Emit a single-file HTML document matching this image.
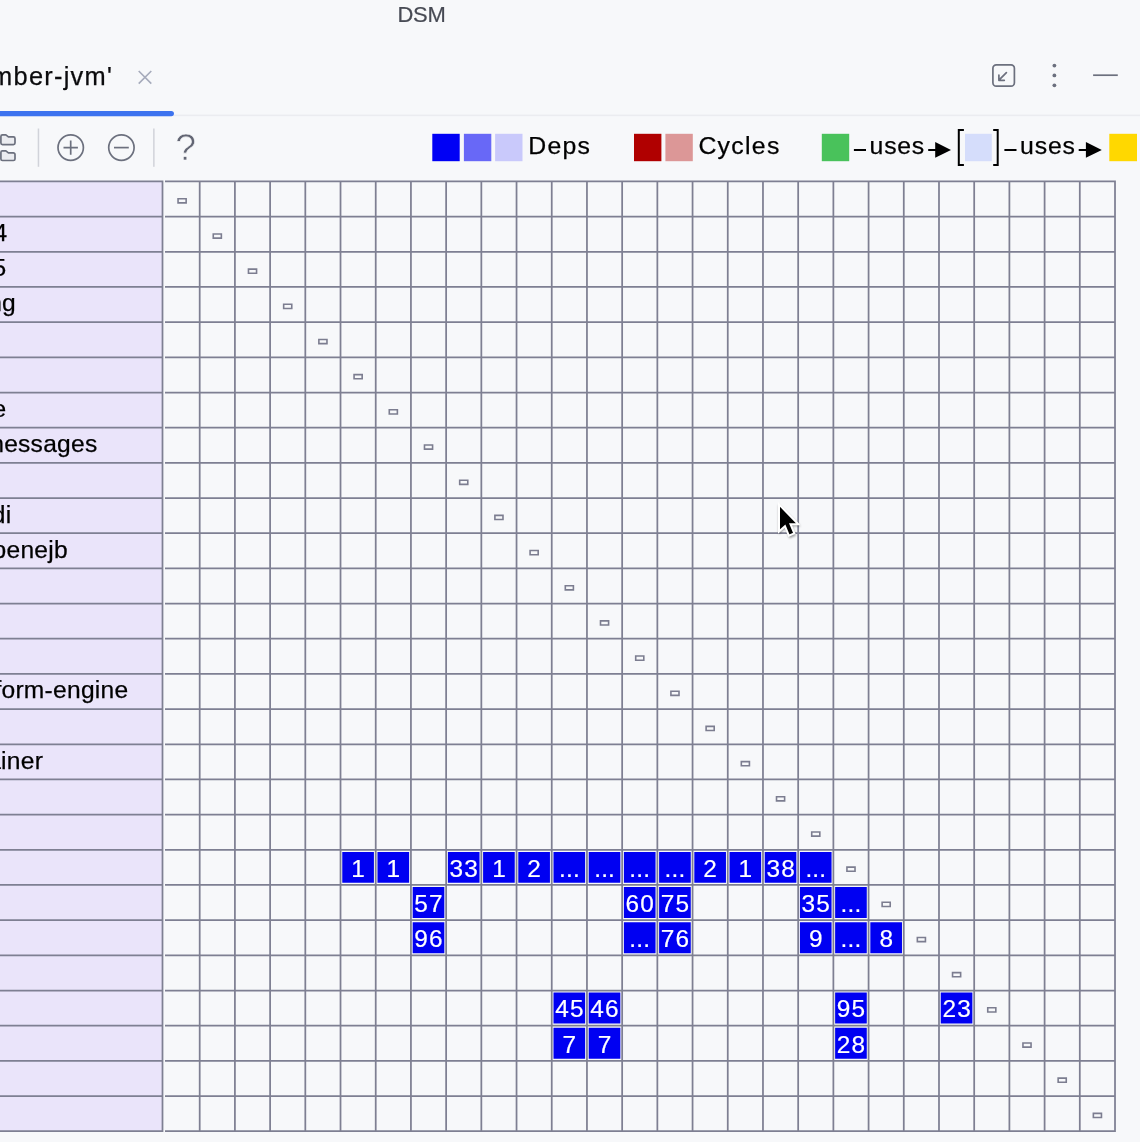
<!DOCTYPE html>
<html lang="en"><head><meta charset="utf-8"><title>DSM</title>
<style>
html,body{margin:0;padding:0}
body{width:1140px;height:1142px;overflow:hidden;background:#f7f8fa;position:relative;font-family:"Liberation Sans",sans-serif;color:#000}
.abs{position:absolute;white-space:nowrap}
.title{left:397.4px;top:2.6px;font-size:22px;line-height:24px;letter-spacing:-.25px;color:#474a54;-webkit-text-stroke:.2px #474a54}
.tab{right:1027px;top:62px;font-size:25.4px;line-height:28px;letter-spacing:1.25px;color:#0b0b0d;-webkit-text-stroke:.25px #0b0b0d}
.lbl{font-size:24.6px;line-height:28px;letter-spacing:.25px;color:#000;-webkit-text-stroke:.25px #000}
.num{font-size:24.4px;line-height:28px;color:#fff;-webkit-text-stroke:.2px #fff;text-align:center;letter-spacing:1.2px;text-indent:1.2px}
.dots{letter-spacing:.2px;text-indent:.2px}
.leg{font-size:24.8px;line-height:28px;color:#000;-webkit-text-stroke:.25px #000}
svg{position:absolute;left:0;top:0}
.q{left:175.3px;top:126.6px;font-size:37.5px;line-height:40px;color:#626573;-webkit-text-stroke:.6px #f7f8fa}
</style></head><body>
<div class="abs title">DSM</div>
<div class="abs tab">Module 'arquillian-container-chameleon-ember-jvm'</div>
<svg width="1140" height="1142" viewBox="0 0 1140 1142">
<rect x="0" y="114.6" width="1140" height="1.5" fill="#ebecf0"/>
<path d="M0 110.9H171.3a2.65 2.65 0 0 1 0 5.3H0z" fill="#3d73ef"/>
<path d="M138.7 71l12.6 12.6M151.3 71l-12.6 12.6" stroke="#a6abbb" stroke-width="1.6" fill="none"/>
<g stroke="#6c707e" stroke-width="1.7" fill="none" stroke-linecap="round" stroke-linejoin="round"><rect x="992.9" y="64.9" width="21.5" height="21.3" rx="3.4"/><path d="M1006.4 72.7L998.9 80.2M998.9 75V80.3H1004.3"/><path d="M1093.1 75.2H1117.8" stroke-linecap="butt"/></g>
<g fill="#6c707e"><circle cx="1054.4" cy="65.6" r="1.9"/><circle cx="1054.4" cy="75.4" r="1.9"/><circle cx="1054.4" cy="85.3" r="1.9"/></g>
<path d="M.9 143 V136.5 a1.6 1.6 0 0 1 1.6 -1.6 H5.9 L8.4 136.9 H13.4 a1.6 1.6 0 0 1 1.6 1.6 V143 a1.6 1.6 0 0 1 -1.6 1.6 H2.5 a1.6 1.6 0 0 1 -1.6 -1.6zM.9 158.9 V152.4 a1.6 1.6 0 0 1 1.6 -1.6 H5.9 L8.4 152.8 H13.4 a1.6 1.6 0 0 1 1.6 1.6 V158.9 a1.6 1.6 0 0 1 -1.6 1.6 H2.5 a1.6 1.6 0 0 1 -1.6 -1.6z" stroke="#6c707e" stroke-width="1.7" fill="#ebecf0" stroke-linejoin="round"/>
<rect x="37.7" y="128.5" width="1.5" height="38.3" fill="#d1d3da"/><rect x="153.1" y="128.5" width="1.5" height="38.3" fill="#d1d3da"/>
<g stroke="#6c707e" stroke-width="1.7" fill="none"><circle cx="70.7" cy="147.6" r="12.7"/><path d="M63.5 147.6H77.9M70.7 140.4V154.8"/><circle cx="121.4" cy="147.6" r="12.7"/><path d="M114 147.6H128.8"/></g>
<rect x="432.3" y="133.8" width="27.4" height="27.4" fill="#0000f5"/><rect x="463.9" y="133.8" width="27.4" height="27.4" fill="#6868f7"/><rect x="495.1" y="133.8" width="27.4" height="27.4" fill="#c9c9fb"/><rect x="634" y="133.8" width="27.4" height="27.4" fill="#b00000"/><rect x="665.4" y="133.8" width="27.4" height="27.4" fill="#dc9797"/><rect x="821.8" y="133.8" width="27.4" height="27.4" fill="#49c25b"/><rect x="965" y="133.8" width="26.8" height="27.4" fill="#d5ddfb"/><rect x="1109.3" y="133.8" width="27.7" height="27.4" fill="#ffd800"/>
<g stroke="#000" stroke-width="2" fill="none"><path d="M853.9 150.1H866M928.2 150H938M1004.4 150.1H1016.5M1078.7 150H1088.5"/><path d="M963.9 129.9H958.8V165.1H963.9M993.2 129.9H997.7V165.1H993.2"/></g><path d="M935.2 142L951 149.9L935.2 157.7zM1085.9 142L1101.8 149.9L1085.9 157.7z" fill="#000"/>
<rect x="0" y="181.45" width="162.5" height="949.75" fill="#eae4fa"/>
<path d="M0 181.45H161.7M165 181.45H1115.88M0 216.63H161.7M165 216.63H1115.88M0 251.8H161.7M165 251.8H1115.88M0 286.98H161.7M165 286.98H1115.88M0 322.15H161.7M165 322.15H1115.88M0 357.33H161.7M165 357.33H1115.88M0 392.51H161.7M165 392.51H1115.88M0 427.68H161.7M165 427.68H1115.88M0 462.86H161.7M165 462.86H1115.88M0 498.03H161.7M165 498.03H1115.88M0 533.21H161.7M165 533.21H1115.88M0 568.39H161.7M165 568.39H1115.88M0 603.56H161.7M165 603.56H1115.88M0 638.74H161.7M165 638.74H1115.88M0 673.91H161.7M165 673.91H1115.88M0 709.09H161.7M165 709.09H1115.88M0 744.27H161.7M165 744.27H1115.88M0 779.44H161.7M165 779.44H1115.88M0 814.62H161.7M165 814.62H1115.88M0 849.79H161.7M165 849.79H1115.88M0 884.97H161.7M165 884.97H1115.88M0 920.15H161.7M165 920.15H1115.88M0 955.32H161.7M165 955.32H1115.88M0 990.5H161.7M165 990.5H1115.88M0 1025.67H161.7M165 1025.67H1115.88M0 1060.85H161.7M165 1060.85H1115.88M0 1096.03H161.7M165 1096.03H1115.88M0 1131.2H161.7M165 1131.2H1115.88M199.7 180.57V1132.08M234.91 180.57V1132.08M270.11 180.57V1132.08M305.32 180.57V1132.08M340.52 180.57V1132.08M375.72 180.57V1132.08M410.93 180.57V1132.08M446.13 180.57V1132.08M481.34 180.57V1132.08M516.54 180.57V1132.08M551.74 180.57V1132.08M586.95 180.57V1132.08M622.15 180.57V1132.08M657.36 180.57V1132.08M692.56 180.57V1132.08M727.76 180.57V1132.08M762.97 180.57V1132.08M798.17 180.57V1132.08M833.38 180.57V1132.08M868.58 180.57V1132.08M903.78 180.57V1132.08M938.99 180.57V1132.08M974.19 180.57V1132.08M1009.4 180.57V1132.08M1044.6 180.57V1132.08M1079.8 180.57V1132.08M1115.01 180.57V1132.08M162.5 180.57V1132.08" stroke="#7e7f92" stroke-width="1.75" fill="none"/>
<path d="M178.05 198.77h8.1v4.15h-8.1zM213.26 233.94h8.1v4.15h-8.1zM248.46 269.12h8.1v4.15h-8.1zM283.66 304.3h8.1v4.15h-8.1zM318.87 339.47h8.1v4.15h-8.1zM354.07 374.65h8.1v4.15h-8.1zM389.28 409.82h8.1v4.15h-8.1zM424.48 445h8.1v4.15h-8.1zM459.68 480.18h8.1v4.15h-8.1zM494.89 515.35h8.1v4.15h-8.1zM530.09 550.53h8.1v4.15h-8.1zM565.3 585.7h8.1v4.15h-8.1zM600.5 620.88h8.1v4.15h-8.1zM635.7 656.06h8.1v4.15h-8.1zM670.91 691.23h8.1v4.15h-8.1zM706.11 726.41h8.1v4.15h-8.1zM741.32 761.58h8.1v4.15h-8.1zM776.52 796.76h8.1v4.15h-8.1zM811.72 831.94h8.1v4.15h-8.1zM846.93 867.11h8.1v4.15h-8.1zM882.13 902.29h8.1v4.15h-8.1zM917.34 937.46h8.1v4.15h-8.1zM952.54 972.64h8.1v4.15h-8.1zM987.74 1007.82h8.1v4.15h-8.1zM1022.95 1042.99h8.1v4.15h-8.1zM1058.15 1078.17h8.1v4.15h-8.1zM1093.36 1113.34h8.1v4.15h-8.1z" stroke="#7c7d90" stroke-width="1.6" fill="none"/>
<path d="M342.27 851.89h31.65v30.9h-31.65zM377.47 851.89h31.65v30.9h-31.65zM447.88 851.89h31.65v30.9h-31.65zM483.09 851.89h31.65v30.9h-31.65zM518.29 851.89h31.65v30.9h-31.65zM553.49 851.89h31.65v30.9h-31.65zM588.7 851.89h31.65v30.9h-31.65zM623.9 851.89h31.65v30.9h-31.65zM659.11 851.89h31.65v30.9h-31.65zM694.31 851.89h31.65v30.9h-31.65zM729.51 851.89h31.65v30.9h-31.65zM764.72 851.89h31.65v30.9h-31.65zM799.92 851.89h31.65v30.9h-31.65zM412.68 887.07h31.65v30.9h-31.65zM623.9 887.07h31.65v30.9h-31.65zM659.11 887.07h31.65v30.9h-31.65zM799.92 887.07h31.65v30.9h-31.65zM835.13 887.07h31.65v30.9h-31.65zM412.68 922.25h31.65v30.9h-31.65zM623.9 922.25h31.65v30.9h-31.65zM659.11 922.25h31.65v30.9h-31.65zM799.92 922.25h31.65v30.9h-31.65zM835.13 922.25h31.65v30.9h-31.65zM870.33 922.25h31.65v30.9h-31.65zM553.49 992.6h31.65v30.9h-31.65zM588.7 992.6h31.65v30.9h-31.65zM835.13 992.6h31.65v30.9h-31.65zM940.74 992.6h31.65v30.9h-31.65zM553.49 1027.77h31.65v30.9h-31.65zM588.7 1027.77h31.65v30.9h-31.65zM835.13 1027.77h31.65v30.9h-31.65z" fill="#0000f2"/>
<defs><filter id="sh" x="-50%" y="-50%" width="200%" height="200%"><feGaussianBlur stdDeviation="1.1"/></filter></defs><path d="M778.2 503V533L785 527L789 536.6L795.6 533.8L791.6 524.6H800.2z" fill="#000" fill-opacity=".38" filter="url(#sh)" transform="translate(.4 1.6)"/><path d="M779 504.4V531.6L785 526.2L788.9 535.6L794.3 533.3L790.5 524.2H798.3z" fill="#000" stroke="#fff" stroke-width="2" stroke-linejoin="miter"/>
</svg>
<div class="abs q">?</div>
<div class="abs leg" style="left:528.2px;top:132.2px;letter-spacing:1.3px">Deps</div>
<div class="abs leg" style="left:698.4px;top:132.2px;letter-spacing:1.3px">Cycles</div>
<div class="abs leg" style="left:869.6px;top:132.2px;letter-spacing:.75px">uses</div>
<div class="abs leg" style="left:1020px;top:132.2px;letter-spacing:.85px">uses</div>
<div class="abs lbl" style="right:1132.7px;top:219.13px">junit4</div>
<div class="abs lbl" style="right:1133.6px;top:254.3px">junit5</div>
<div class="abs lbl" style="right:1124px;top:289.48px">testng</div>
<div class="abs lbl" style="right:1133.6px;top:395.01px">core</div>
<div class="abs lbl" style="right:1042.5px;top:430.18px">messages</div>
<div class="abs lbl" style="right:1128.6px;top:500.53px">cdi</div>
<div class="abs lbl" style="right:1072.1px;top:535.71px">openejb</div>
<div class="abs lbl" style="right:1011.6px;top:676.41px">platform-engine</div>
<div class="abs lbl" style="right:1096.9px;top:746.77px">container</div>
<div class="abs num" style="left:340.52px;top:854.69px;width:35.2px">1</div>
<div class="abs num" style="left:375.72px;top:854.69px;width:35.2px">1</div>
<div class="abs num" style="left:446.13px;top:854.69px;width:35.2px">33</div>
<div class="abs num" style="left:481.34px;top:854.69px;width:35.2px">1</div>
<div class="abs num" style="left:516.54px;top:854.69px;width:35.2px">2</div>
<div class="abs num dots" style="left:551.74px;top:854.69px;width:35.2px">...</div>
<div class="abs num dots" style="left:586.95px;top:854.69px;width:35.2px">...</div>
<div class="abs num dots" style="left:622.15px;top:854.69px;width:35.2px">...</div>
<div class="abs num dots" style="left:657.36px;top:854.69px;width:35.2px">...</div>
<div class="abs num" style="left:692.56px;top:854.69px;width:35.2px">2</div>
<div class="abs num" style="left:727.76px;top:854.69px;width:35.2px">1</div>
<div class="abs num" style="left:762.97px;top:854.69px;width:35.2px">38</div>
<div class="abs num dots" style="left:798.17px;top:854.69px;width:35.2px">...</div>
<div class="abs num" style="left:410.93px;top:889.87px;width:35.2px">57</div>
<div class="abs num" style="left:622.15px;top:889.87px;width:35.2px">60</div>
<div class="abs num" style="left:657.36px;top:889.87px;width:35.2px">75</div>
<div class="abs num" style="left:798.17px;top:889.87px;width:35.2px">35</div>
<div class="abs num dots" style="left:833.38px;top:889.87px;width:35.2px">...</div>
<div class="abs num" style="left:410.93px;top:925.05px;width:35.2px">96</div>
<div class="abs num dots" style="left:622.15px;top:925.05px;width:35.2px">...</div>
<div class="abs num" style="left:657.36px;top:925.05px;width:35.2px">76</div>
<div class="abs num" style="left:798.17px;top:925.05px;width:35.2px">9</div>
<div class="abs num dots" style="left:833.38px;top:925.05px;width:35.2px">...</div>
<div class="abs num" style="left:868.58px;top:925.05px;width:35.2px">8</div>
<div class="abs num" style="left:551.74px;top:995.4px;width:35.2px">45</div>
<div class="abs num" style="left:586.95px;top:995.4px;width:35.2px">46</div>
<div class="abs num" style="left:833.38px;top:995.4px;width:35.2px">95</div>
<div class="abs num" style="left:938.99px;top:995.4px;width:35.2px">23</div>
<div class="abs num" style="left:551.74px;top:1030.57px;width:35.2px">7</div>
<div class="abs num" style="left:586.95px;top:1030.57px;width:35.2px">7</div>
<div class="abs num" style="left:833.38px;top:1030.57px;width:35.2px">28</div>
</body></html>
